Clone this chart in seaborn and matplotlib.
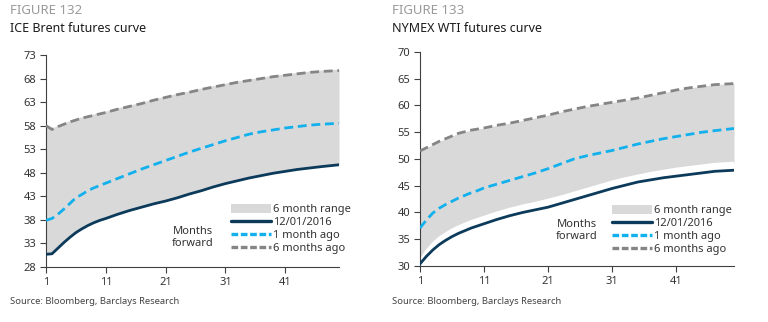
import matplotlib
matplotlib.use("Agg")
import matplotlib.pyplot as plt
from matplotlib.patches import Patch
from matplotlib.lines import Line2D
import pandas as pd
import seaborn as sns

# Months forward (contract month)
months = [1, 2, 3, 4, 5, 6, 7, 8, 9, 10, 11, 13, 15, 17, 19, 21, 23, 25, 27, 29,
          31, 33, 35, 37, 39, 41, 43, 45, 47, 50]

# ICE Brent ($/bbl)
brent_now = [30.7, 30.8, 32.0, 33.2, 34.3, 35.3, 36.1, 36.8, 37.4, 37.9, 38.3, 39.2,
             40.0, 40.7, 41.4, 42.0, 42.7, 43.5, 44.2, 45.0, 45.7, 46.3, 46.9, 47.4,
             47.9, 48.3, 48.7, 49.0, 49.3, 49.7]
brent_1m = [37.9, 38.3, 39.2, 40.3, 41.5, 42.7, 43.4, 44.2, 44.8, 45.3, 45.8, 46.8,
            47.8, 48.8, 49.7, 50.6, 51.5, 52.4, 53.2, 54.0, 54.8, 55.5, 56.2, 56.7,
            57.1, 57.5, 57.8, 58.1, 58.3, 58.5]
brent_6m = [58.0, 57.2, 57.8, 58.3, 58.8, 59.2, 59.6, 59.9, 60.2, 60.5, 60.8, 61.5,
            62.1, 62.7, 63.4, 64.0, 64.6, 65.1, 65.7, 66.2, 66.7, 67.2, 67.6, 68.0,
            68.4, 68.7, 69.0, 69.3, 69.5, 69.7]
brent_range_lo = brent_now
brent_range_hi = [58.2, 57.5, 58.1, 58.6, 59.1, 59.5, 59.9, 60.2, 60.5, 60.8, 61.1, 61.8,
                  62.4, 63.0, 63.7, 64.3, 64.9, 65.4, 66.0, 66.5, 67.0, 67.5, 67.9, 68.3,
                  68.7, 69.0, 69.3, 69.6, 69.8, 70.0]

# NYMEX WTI ($/bbl)
wti_now = [30.4, 31.8, 33.0, 34.0, 34.8, 35.5, 36.1, 36.6, 37.1, 37.5, 37.9, 38.7,
           39.4, 40.0, 40.5, 41.0, 41.7, 42.4, 43.1, 43.8, 44.5, 45.1, 45.7, 46.1,
           46.5, 46.8, 47.1, 47.4, 47.7, 47.9]
wti_1m = [37.1, 38.6, 39.9, 40.8, 41.5, 42.1, 42.7, 43.2, 43.7, 44.1, 44.6, 45.3,
          46.0, 46.7, 47.4, 48.2, 49.1, 50.0, 50.6, 51.1, 51.6, 52.2, 52.8, 53.3,
          53.8, 54.2, 54.6, 55.0, 55.3, 55.7]
wti_6m = [51.5, 52.1, 52.7, 53.3, 53.8, 54.3, 54.8, 55.1, 55.4, 55.6, 55.8, 56.3,
          56.7, 57.2, 57.7, 58.2, 58.8, 59.3, 59.8, 60.2, 60.6, 61.0, 61.4, 61.9,
          62.4, 62.9, 63.3, 63.6, 63.9, 64.1]
wti_range_lo = [30.8, 32.7, 34.1, 35.2, 36.0, 36.7, 37.3, 37.8, 38.3, 38.7, 39.1, 39.9,
                40.6, 41.2, 41.7, 42.3, 42.9, 43.6, 44.3, 45.0, 45.7, 46.3, 46.8, 47.3,
                47.7, 48.1, 48.4, 48.7, 49.0, 49.2]
wti_range_hi = wti_6m

x_ticks = [1, 11, 21, 31, 41]
brent_yticks = [28, 33, 38, 43, 48, 53, 58, 63, 68, 73]
wti_yticks = [30, 35, 40, 45, 50, 55, 60, 65, 70]

labels = ["6 month range", "12/01/2016", "1 month ago", "6 months ago"]

NAVY = "#0b3a5b"
CYAN = "#12b0ec"
GREY = "#858585"
FILL = "#d9d9d9"
TXT = "#333333"

sns.set_style("ticks")
plt.rcParams["font.family"] = ["Noto Sans", "DejaVu Sans"]
plt.rcParams["axes.edgecolor"] = "#404040"
plt.rcParams["xtick.color"] = "#404040"
plt.rcParams["ytick.color"] = "#404040"

fig = plt.figure(figsize=(7.68, 3.22), dpi=100)


def draw_panel(ax, now, one_m, six_m, lo, hi, yticks, legend_anchor, note_xy,
               stroke_lo=False):
    df = pd.DataFrame({"month": months, "now": now, "one": one_m, "six": six_m})
    ax.fill_between(months, lo, hi, color=FILL, lw=0, zorder=1)
    if stroke_lo:
        ax.plot(months, lo, color="white", lw=2.2, zorder=1.5)
    sns.lineplot(data=df, x="month", y="six", ax=ax, color=GREY, lw=2.0,
                 zorder=3).lines[-1].set_dashes((3.2, 1.7))
    sns.lineplot(data=df, x="month", y="one", ax=ax, color=CYAN, lw=2.0,
                 zorder=3).lines[-1].set_dashes((3.2, 1.7))
    sns.lineplot(data=df, x="month", y="now", ax=ax, color=NAVY, lw=2.0, zorder=4)

    ax.set_xlim(1, 50)
    ax.set_ylim(yticks[0], yticks[-1])
    ax.set_xticks(x_ticks)
    ax.set_yticks(yticks)
    ax.set_xlabel("")
    ax.set_ylabel("")
    ax.tick_params(labelsize=8, length=4, width=0.8, labelcolor=TXT, pad=3)
    for s in ("top", "right"):
        ax.spines[s].set_visible(False)
    for s in ("left", "bottom"):
        ax.spines[s].set_linewidth(0.8)

    handles = [
        Patch(facecolor=FILL, edgecolor="none"),
        Line2D([], [], color=NAVY, lw=2.4),
        Line2D([], [], color=CYAN, lw=2.4, dashes=(2.0, 0.8)),
        Line2D([], [], color=GREY, lw=2.4, dashes=(2.0, 0.8)),
    ]
    ax.legend(handles, labels, loc="lower left", bbox_to_anchor=legend_anchor,
              frameon=False, fontsize=8, handlelength=3.6, handleheight=0.9,
              handletextpad=0.25, labelspacing=0.15, borderaxespad=0,
              borderpad=0, labelcolor=TXT)
    ax.text(note_xy[0], note_xy[1], "Months\nforward", transform=ax.transAxes,
            ha="center", va="center", fontsize=8, color=TXT, linespacing=1.1)


ax1 = fig.add_axes([46 / 768, 1 - 267 / 322, 293 / 768, 212 / 322])
draw_panel(ax1, brent_now, brent_1m, brent_6m, brent_range_lo, brent_range_hi,
           brent_yticks, (0.63, 0.06), (0.50, 0.14))

ax2 = fig.add_axes([420 / 768, 1 - 266 / 322, 314 / 768, 214 / 322])
draw_panel(ax2, wti_now, wti_1m, wti_6m, wti_range_lo, wti_range_hi,
           wti_yticks, (0.61, 0.05), (0.50, 0.165), stroke_lo=True)

# Headings and source lines
fig.text(10 / 768, 1 - 11 / 322, "FIGURE 132", fontsize=9.5, color="#9a9a9a",
         va="center", ha="left")
fig.text(10 / 768, 1 - 28 / 322, "ICE Brent futures curve", fontsize=9,
         color="#1a1a1a", va="center", ha="left", fontweight="semibold")
fig.text(10 / 768, 1 - 302 / 322, "Source: Bloomberg, Barclays Research",
         fontsize=6.8, color="#444444", va="center", ha="left")

fig.text(392 / 768, 1 - 11 / 322, "FIGURE 133", fontsize=9.5, color="#9a9a9a",
         va="center", ha="left")
fig.text(392 / 768, 1 - 28 / 322, "NYMEX WTI futures curve", fontsize=9,
         color="#1a1a1a", va="center", ha="left", fontweight="semibold")
fig.text(392 / 768, 1 - 302 / 322, "Source: Bloomberg, Barclays Research",
         fontsize=6.8, color="#444444", va="center", ha="left")

fig.savefig("out.png", dpi=100)
